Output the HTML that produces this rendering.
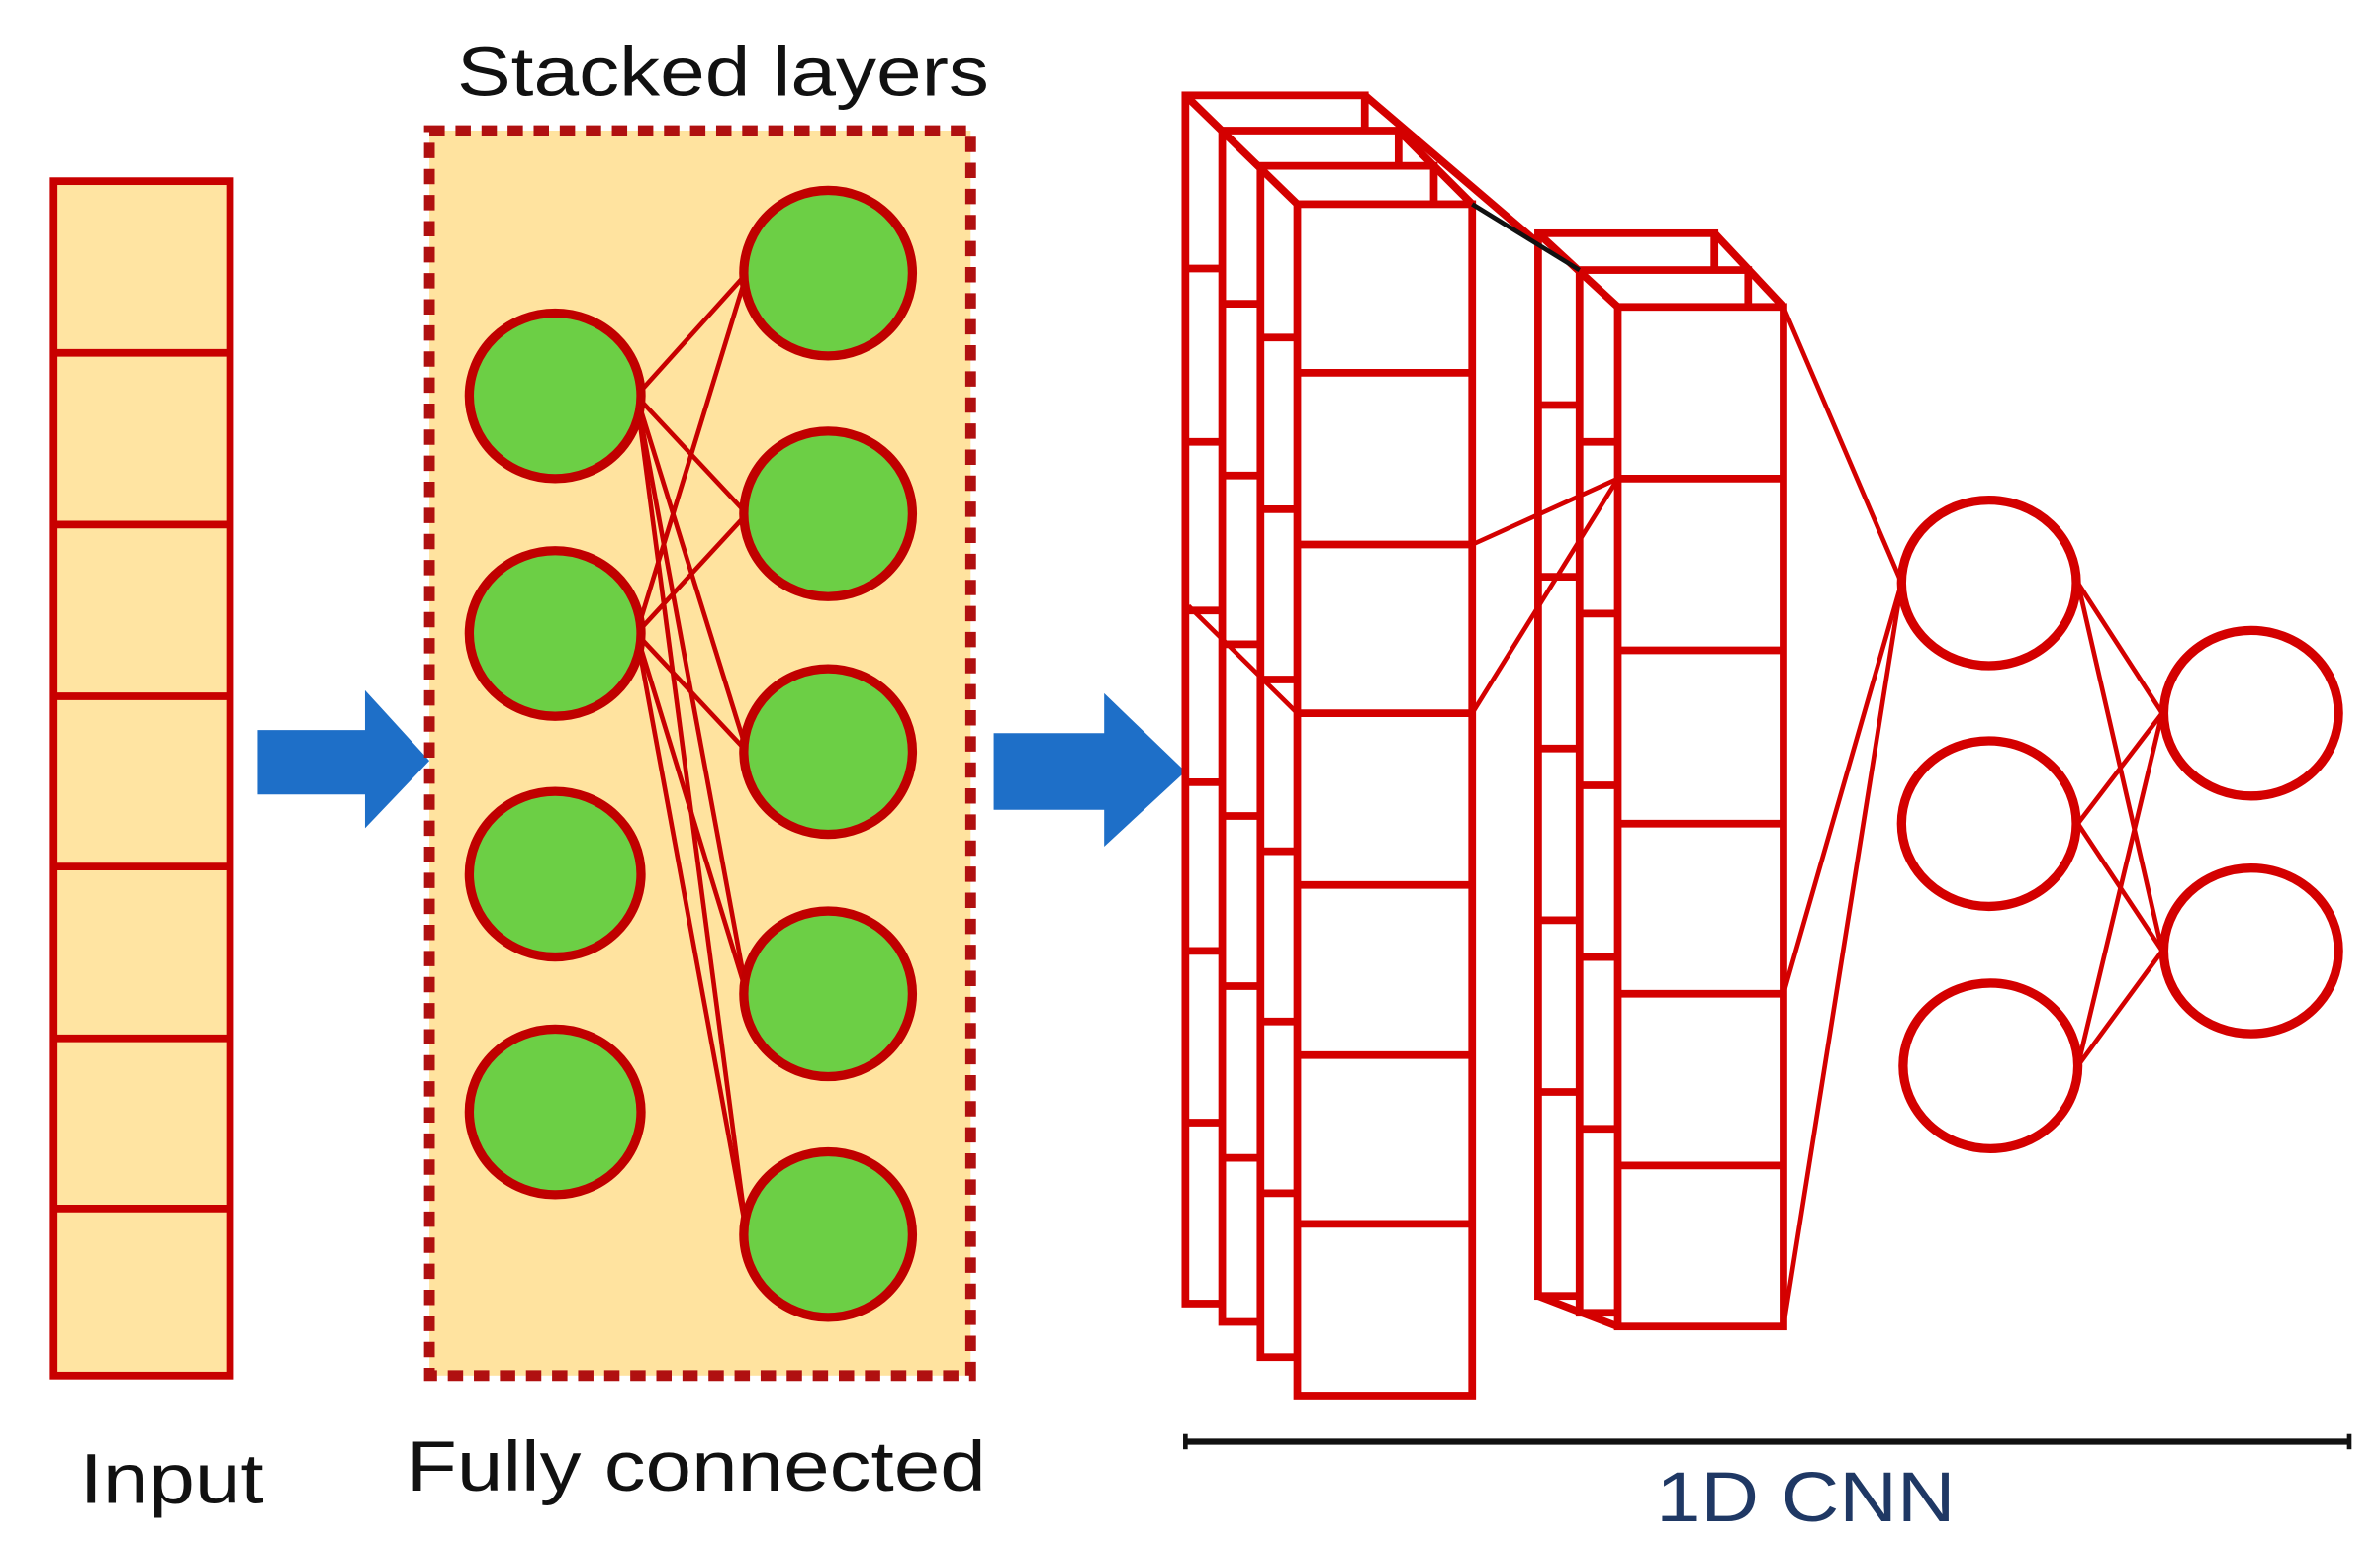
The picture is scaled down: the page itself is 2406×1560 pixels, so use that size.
<!DOCTYPE html>
<html><head><meta charset="utf-8"><style>
html,body{margin:0;padding:0;background:#fff;}
svg{display:block;}
text{font-family:"Liberation Sans",Arial,sans-serif;}
</style></head><body>
<svg width="2406" height="1560" viewBox="0 0 1552 1006" xmlns="http://www.w3.org/2000/svg">
<!-- Input column -->
<rect x="35" y="118" width="115" height="779" fill="#FFE4A2" stroke="#C80000" stroke-width="5"/>
<g stroke="#C80000" stroke-width="5">
<line x1="35" y1="230" x2="150" y2="230"/><line x1="35" y1="342" x2="150" y2="342"/>
<line x1="35" y1="454" x2="150" y2="454"/><line x1="35" y1="565" x2="150" y2="565"/>
<line x1="35" y1="677" x2="150" y2="677"/><line x1="35" y1="788" x2="150" y2="788"/>
</g>
<text x="52" y="980" font-size="46" fill="#111" textLength="120" lengthAdjust="spacingAndGlyphs">Input</text>
<!-- Arrow 1 -->
<polygon points="168,476 238,476 238,450 280,496 238,540 238,518 168,518" fill="#1E6FC8"/>
<!-- Dashed box -->
<rect x="280" y="85" width="353" height="812" fill="#FFE39F" stroke="#B01010" stroke-width="7" stroke-dasharray="10,7"/>
<text x="298" y="62" font-size="45" fill="#111" textLength="347" lengthAdjust="spacingAndGlyphs">Stacked layers</text>
<text x="265" y="972" font-size="46" fill="#111" textLength="378" lengthAdjust="spacingAndGlyphs">Fully connected</text>
<!-- FC lines -->
<g stroke="#C80000" stroke-width="3">
<line x1="415" y1="258" x2="487" y2="178"/><line x1="415" y1="258" x2="487" y2="335"/>
<line x1="415" y1="258" x2="487" y2="490"/><line x1="415" y1="258" x2="487" y2="648"/>
<line x1="415" y1="258" x2="487" y2="805"/>
<line x1="415" y1="413" x2="487" y2="178"/><line x1="415" y1="413" x2="487" y2="335"/>
<line x1="415" y1="413" x2="487" y2="490"/><line x1="415" y1="413" x2="487" y2="648"/>
<line x1="415" y1="413" x2="487" y2="805"/>
</g>
<g fill="#6CCF45" stroke="#C00000" stroke-width="6">
<ellipse cx="362" cy="258" rx="56" ry="54"/><ellipse cx="362" cy="413" rx="56" ry="54"/>
<ellipse cx="362" cy="570" rx="56" ry="54"/><ellipse cx="362" cy="725" rx="56" ry="54"/>
<ellipse cx="540" cy="178" rx="55" ry="54"/><ellipse cx="540" cy="335" rx="55" ry="54"/>
<ellipse cx="540" cy="490" rx="55" ry="54"/><ellipse cx="540" cy="648" rx="55" ry="54"/>
<ellipse cx="540" cy="805" rx="55" ry="54"/>
</g>
<!-- Arrow 2 -->
<polygon points="648,478 720,478 720,452 773,503 720,552 720,528 648,528" fill="#1E6FC8"/>
<!-- CNN stack 1 -->
<g stroke="#D40000" stroke-width="5" fill="#fff">
<line x1="890" y1="62" x2="1040" y2="190"/>
<rect x="773" y="62" width="117" height="788"/>
<rect x="797" y="85" width="115" height="777"/>
<rect x="822" y="108" width="113" height="777"/>
<rect x="846" y="133" width="114" height="777"/>
</g>
<g stroke="#D40000" stroke-width="5">
<line x1="773" y1="175" x2="797" y2="175"/><line x1="773" y1="288" x2="797" y2="288"/>
<line x1="773" y1="398" x2="797" y2="398"/><line x1="773" y1="510" x2="797" y2="510"/>
<line x1="773" y1="620" x2="797" y2="620"/><line x1="773" y1="732" x2="797" y2="732"/>
<line x1="797" y1="198" x2="822" y2="198"/><line x1="797" y1="310" x2="822" y2="310"/>
<line x1="797" y1="420" x2="822" y2="420"/><line x1="797" y1="532" x2="822" y2="532"/>
<line x1="797" y1="643" x2="822" y2="643"/><line x1="797" y1="755" x2="822" y2="755"/>
<line x1="822" y1="220" x2="846" y2="220"/><line x1="822" y1="332" x2="846" y2="332"/>
<line x1="822" y1="443" x2="846" y2="443"/><line x1="822" y1="555" x2="846" y2="555"/>
<line x1="822" y1="666" x2="846" y2="666"/><line x1="822" y1="778" x2="846" y2="778"/>
<line x1="846" y1="243" x2="960" y2="243"/><line x1="846" y1="355" x2="960" y2="355"/>
<line x1="846" y1="465" x2="960" y2="465"/><line x1="846" y1="577" x2="960" y2="577"/>
<line x1="846" y1="688" x2="960" y2="688"/><line x1="846" y1="798" x2="960" y2="798"/>
<line x1="773" y1="62" x2="846" y2="133"/><line x1="912" y1="85" x2="960" y2="133"/>
</g>
<g stroke="#D40000" stroke-width="3">
<line x1="775" y1="395" x2="846" y2="465"/>
</g>
<!-- CNN stack 2 -->
<g stroke="#D40000" stroke-width="5" fill="#fff">
<rect x="1003" y="152" width="115" height="693"/>
<rect x="1030" y="176" width="110" height="680"/>
<rect x="1055" y="200" width="108" height="665"/>
</g>
<g stroke="#D40000" stroke-width="5">
<line x1="1003" y1="264" x2="1030" y2="264"/><line x1="1003" y1="376" x2="1030" y2="376"/>
<line x1="1003" y1="488" x2="1030" y2="488"/><line x1="1003" y1="600" x2="1030" y2="600"/>
<line x1="1003" y1="712" x2="1030" y2="712"/>
<line x1="1030" y1="288" x2="1055" y2="288"/><line x1="1030" y1="400" x2="1055" y2="400"/>
<line x1="1030" y1="512" x2="1055" y2="512"/><line x1="1030" y1="624" x2="1055" y2="624"/>
<line x1="1030" y1="736" x2="1055" y2="736"/>
<line x1="1055" y1="312" x2="1163" y2="312"/><line x1="1055" y1="424" x2="1163" y2="424"/>
<line x1="1055" y1="537" x2="1163" y2="537"/><line x1="1055" y1="648" x2="1163" y2="648"/>
<line x1="1055" y1="760" x2="1163" y2="760"/>
<line x1="1003" y1="152" x2="1055" y2="200"/><line x1="1118" y1="152" x2="1163" y2="200"/>
<line x1="1003" y1="845" x2="1055" y2="865"/>
</g>
<line x1="960" y1="133" x2="1030" y2="176" stroke="#111" stroke-width="3"/>
<g stroke="#D40000" stroke-width="3">
<line x1="960" y1="355" x2="1055" y2="312"/><line x1="960" y1="465" x2="1055" y2="312"/>
<line x1="1163" y1="200" x2="1240" y2="380"/><line x1="1163" y1="648" x2="1240" y2="380"/>
<line x1="1163" y1="865" x2="1240" y2="380"/>
<line x1="1355" y1="380" x2="1410" y2="465"/><line x1="1355" y1="380" x2="1410" y2="620"/>
<line x1="1355" y1="537" x2="1410" y2="465"/><line x1="1355" y1="537" x2="1410" y2="620"/>
<line x1="1355" y1="695" x2="1410" y2="465"/><line x1="1355" y1="695" x2="1410" y2="620"/>
</g>
<g fill="none" stroke="#D40000" stroke-width="6">
<ellipse cx="1297" cy="380" rx="57" ry="54"/><ellipse cx="1297" cy="537" rx="57" ry="54"/>
<ellipse cx="1298" cy="695" rx="57" ry="54"/>
<ellipse cx="1468" cy="465" rx="57" ry="54"/><ellipse cx="1468" cy="620" rx="57" ry="54"/>
</g>
<!-- bottom bracket -->
<line x1="773" y1="940" x2="1532" y2="940" stroke="#111" stroke-width="4"/>
<line x1="773" y1="935" x2="773" y2="945" stroke="#111" stroke-width="3"/>
<line x1="1532" y1="935" x2="1532" y2="945" stroke="#111" stroke-width="3"/>
<text x="1080" y="992" font-size="46" fill="#1F3864" textLength="195" lengthAdjust="spacingAndGlyphs">1D CNN</text>
</svg>
</body></html>
